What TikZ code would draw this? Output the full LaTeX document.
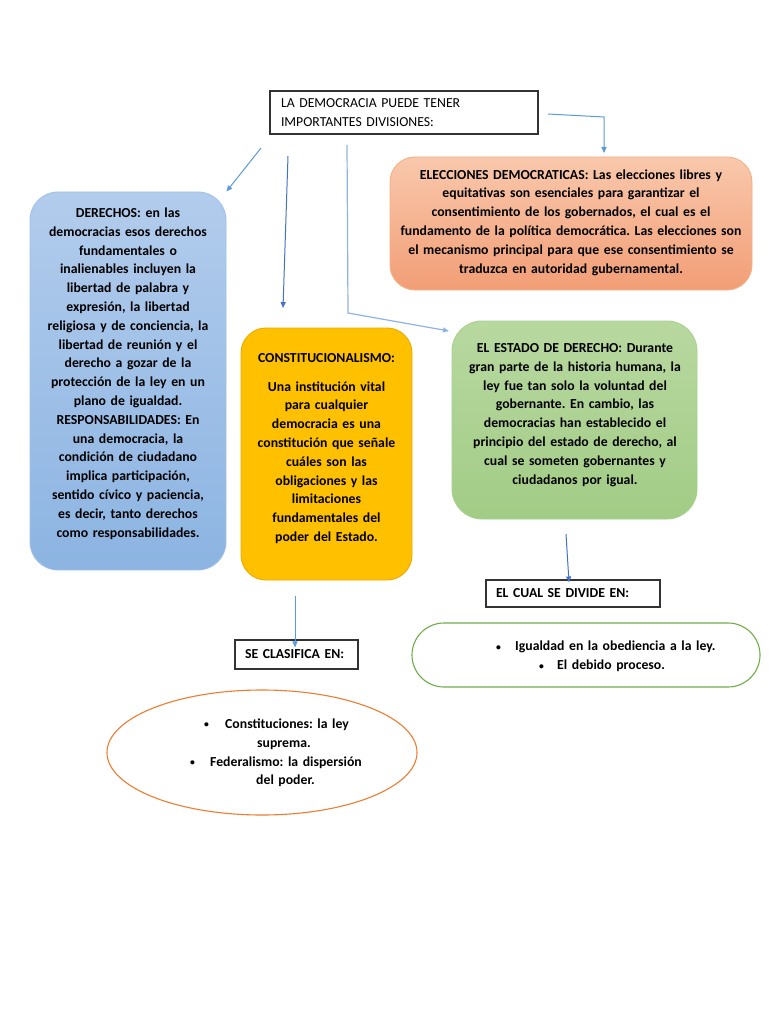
\documentclass[tikz,border=0pt]{standalone}
\usepackage{fontspec}
\setmainfont{Carlito}
\usetikzlibrary{arrows.meta,shapes.geometric}
\frenchspacing
\newcommand\smallbul{\raisebox{0.6pt}{\scalebox{0.7}{\textbullet}}}
\definecolor{arrblue}{HTML}{5B9BD5}
\definecolor{arrdark}{HTML}{4472C4}
\definecolor{arrlight}{HTML}{8FB4E3}
\definecolor{bluetop}{RGB}{178,204,236}
\definecolor{bluebot}{RGB}{140,180,226}
\definecolor{blueedge}{RGB}{160,195,232}
\definecolor{salmtop}{RGB}{249,200,172}
\definecolor{salmbot}{RGB}{242,158,118}
\definecolor{salmedge}{RGB}{244,177,131}
\definecolor{gold}{HTML}{FFC000}
\definecolor{goldedge}{RGB}{236,170,0}
\definecolor{greentop}{RGB}{184,216,160}
\definecolor{greenbot}{RGB}{162,204,134}
\definecolor{greenedge}{RGB}{169,209,142}
\definecolor{pillgreen}{HTML}{70AD47}
\definecolor{ellorange}{HTML}{ED7D31}
\begin{document}
\begin{tikzpicture}[x=1pt,y=-1pt,
  txt/.style={font=\fontsize{13.75}{18.8}\selectfont\bfseries, inner sep=0pt, align=center, text=black},
  arr/.style={draw=arrblue, line width=1pt, -{Triangle[length=6pt,width=5pt]}},
  rbox/.style={draw=black!80, line width=1.1pt, fill=white, inner ysep=0pt, align=left},
  cbox/.style={line width=0.9pt},
]
\useasboundingbox[fill=white] (0,0) rectangle (768,1024);

% ---- boxes ----
\node[rbox, inner xsep=11pt, text width=246pt, minimum width=268pt, minimum height=43pt,
      font=\fontsize{13.75}{19}\selectfont] (top) at (404,112.5)
      {LA DEMOCRACIA PUEDE TENER\\IMPORTANTES DIVISIONES:};

\node[cbox, draw=blueedge, rounded corners=28pt, top color=bluetop, bottom color=bluebot,
      minimum width=196pt, minimum height=378pt] (der) at (128,381) {};
\node[txt, text width=190pt] (dert) at (128,373.5)
{DERECHOS: en las\\
democracias esos derechos\\
fundamentales o\\
inalienables incluyen la\\
libertad de palabra y\\
expresión, la libertad\\
religiosa y de conciencia, la\\
libertad de reunión y el\\
derecho a gozar de la\\
protección de la ley en un\\
plano de igualdad.\\
RESPONSABILIDADES: En\\
una democracia, la\\
condición de ciudadano\\
implica participación,\\
sentido cívico y paciencia,\\
es decir, tanto derechos\\
como responsabilidades.};

\node[cbox, draw=salmedge, rounded corners=25pt, top color=salmtop, bottom color=salmbot,
      minimum width=362pt, minimum height=133pt] (ele) at (571,223.5) {};
\node[txt, text width=355pt] (elet) at (571,222.5)
{ELECCIONES DEMOCRATICAS: Las elecciones libres y\\
equitativas son esenciales para garantizar el\\
consentimiento de los gobernados, el cual es el\\
fundamento de la política democrática. Las elecciones son\\
el mecanismo principal para que ese consentimiento se\\
traduzca en autoridad gubernamental.};

\node[cbox, draw=goldedge, fill=gold, rounded corners=25pt,
      minimum width=171pt, minimum height=252pt] (con) at (326.5,454) {};
\node[txt, text width=168pt] (cont) at (326.5,448.5)
{CONSTITUCIONALISMO:\\[10pt]
Una institución vital\\
para cualquier\\
democracia es una\\
constitución que señale\\
cuáles son las\\
obligaciones y las\\
limitaciones\\
fundamentales del\\
poder del Estado.};

\node[cbox, draw=greenedge, rounded corners=30pt, top color=greentop, bottom color=greenbot,
      minimum width=245pt, minimum height=198pt] (est) at (574.5,420) {};
\node[txt, text width=240pt] (estt) at (575,415)
{EL ESTADO DE DERECHO: Durante\\
gran parte de la historia humana, la\\
ley fue tan solo la voluntad del\\
gobernante. En cambio, las\\
democracias han establecido el\\
principio del estado de derecho, al\\
cual se someten gobernantes y\\
ciudadanos por igual.};

\node[rbox, inner xsep=10pt, text width=154pt, minimum width=174pt, minimum height=27pt,
      font=\fontsize{13.75}{18.8}\selectfont\bfseries] (div) at (573,593.5) {EL CUAL SE DIVIDE EN:};

\node[rbox, inner xsep=10pt, text width=103pt, minimum width=123pt, minimum height=29pt,
      font=\fontsize{13.75}{18.8}\selectfont\bfseries] (cla) at (296.5,654.5) {SE CLASIFICA EN:};

\node[draw=pillgreen, line width=1.1pt, fill=white, rounded corners=32pt,
      minimum width=348pt, minimum height=64pt] (pill) at (586,655) {};
\node[txt, align=left, anchor=west, text width=220pt] (pillt) at (496,656.5)
{\makebox[19pt][l]{\smallbul}Igualdad en la obediencia a la ley.\\
\hspace*{43pt}\makebox[18pt][l]{\smallbul}El debido proceso.};

\node[draw=ellorange, line width=1.1pt, fill=white, ellipse, inner sep=0pt,
      minimum width=310pt, minimum height=125pt] (ell) at (262,752.5) {};
\node[txt, align=left, anchor=west, text width=180pt] (ellt) at (190,753)
{\hspace*{14pt}\makebox[21pt][l]{\smallbul}Constituciones: la ley\\
\hspace*{67pt}suprema.\\
\makebox[20pt][l]{\smallbul}Federalismo: la dispersión\\
\hspace*{66pt}del poder.};

% ---- connectors ----
\coordinate (s1) at (261,148);
\coordinate (s2) at (288,156);
\coordinate (e2) at (283,308);
\coordinate (s3) at (347,145);
\coordinate (m3) at (348,313);
\coordinate (e3) at (449,331);
\coordinate (s4) at (548,114);
\coordinate (m4) at (604,117);
\coordinate (e4) at (604,153);
\coordinate (s5) at (566,534);
\coordinate (s6) at (295,596);

\draw[arr] (s1) -- (der.north east);
\draw[arr, draw=arrdark] (s2) -- (e2);
\draw[arr, draw=arrlight, line width=1.2pt] (s3) -- (m3) -- (e3);
\draw[arr] (s4) -- (m4) -- (e4);
\draw[arr, draw=arrdark] (s5) -- ([xshift=-4pt,yshift=-3pt]div.north);
\draw[arr] (s6) -- ([yshift=-8pt]cla.north -| s6);
\end{tikzpicture}
\end{document}
